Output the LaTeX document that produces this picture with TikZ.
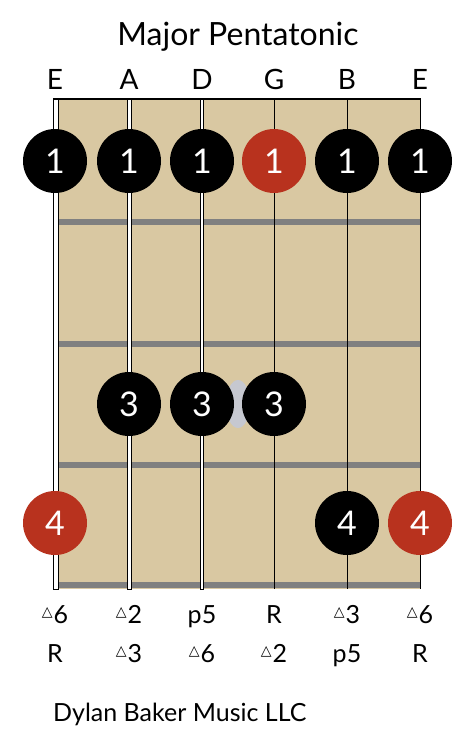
\documentclass[tikz,border=0pt]{standalone}
\usepackage{fontspec}
\setmainfont{Lato}
\newfontfamily\symf{DejaVu Sans}
\definecolor{board}{RGB}{217,200,162}
\definecolor{fretgray}{RGB}{128,128,128}
\definecolor{dotred}{RGB}{184,50,30}
\definecolor{inlay}{RGB}{198,200,208}
\newcommand\tri{\raisebox{7pt}{\symf\fontsize{14}{14}\selectfont △}\hspace{1pt}}
\tikzset{
  dotb/.style={circle, fill=black, minimum size=64pt, inner sep=0pt, text=white, font=\fontsize{34}{34}\selectfont},
  dotr/.style={dotb, fill=dotred},
  lab/.style={anchor=base, inner sep=0pt, font=\fontsize{25}{25}\selectfont},
  slab/.style={anchor=base, inner sep=0pt, font=\fontsize{28}{28}\selectfont},
  wound/.style={draw=black, fill=white, line width=0.8pt},
  plain/.style={draw=black, line width=1pt},
}
\begin{document}
\begin{tikzpicture}[x=1pt,y=-1pt]
\useasboundingbox[fill=white] (0,0) rectangle (474,747);
% board
\fill[board] (56,99) rectangle (420,589);
% frets
\foreach \y in {222,344,465,585}{\fill[fretgray] (56,\y-3) rectangle (420,\y+3);}
% inlay
\fill[inlay] (238,404) ellipse (12 and 24);
% strings
\draw[wound] (53,99) rectangle (58.5,589);
\draw[wound] (127,99) rectangle (131,589);
\draw[wound] (200.5,99) rectangle (203.5,589);
\draw[plain] (274,99) -- (274,589);
\draw[plain] (347,99) -- (347,589);
\draw[plain] (420,99) -- (420,589);
% nut line
\draw[black, line width=1.6pt] (53,99) -- (420.5,99);
% title and string names
\node[anchor=base, inner sep=0pt, font=\fontsize{32}{32}\selectfont] (title) at (238,45) {Major Pentatonic};
\node[slab] (nE) at (55,89) {E};
\node[slab] (nA) at (129,89) {A};
\node[slab] (nD) at (202,89) {D};
\node[slab] (nG) at (274,89) {G};
\node[slab] (nB) at (347,89) {B};
\node[slab] (nE2) at (420,89) {E};
% dots fret 1
\node[dotb] (d11) at (55,161) {1};
\node[dotb] (d12) at (129,161) {1};
\node[dotb] (d13) at (202,161) {1};
\node[dotr] (d14) at (274,161) {1};
\node[dotb] (d15) at (347,161) {1};
\node[dotb] (d16) at (420,161) {1};
% fret 3
\node[dotb] (d32) at (129,404) {3};
\node[dotb] (d33) at (202,404) {3};
\node[dotb] (d34) at (274,404) {3};
% fret 4
\node[dotr] (d41) at (55,523) {4};
\node[dotb] (d45) at (347,523) {4};
\node[dotr] (d46) at (420,523) {4};
% interval labels
\node[lab] (a1) at (55,623) {\tri 6};
\node[lab] (a2) at (129,623) {\tri 2};
\node[lab] (a3) at (202,623) {p5};
\node[lab] (a4) at (274,623) {R};
\node[lab] (a5) at (347,623) {\tri 3};
\node[lab] (a6) at (420,623) {\tri 6};
\node[lab] (b1) at (55,662) {R};
\node[lab] (b2) at (129,662) {\tri 3};
\node[lab] (b3) at (202,662) {\tri 6};
\node[lab] (b4) at (274,662) {\tri 2};
\node[lab] (b5) at (347,662) {p5};
\node[lab] (b6) at (420,662) {R};
% footer
\node[anchor=base west, inner sep=0pt, font=\fontsize{25}{25}\selectfont] (foot) at (53,721) {Dylan Baker Music LLC};
\end{tikzpicture}
\end{document}
